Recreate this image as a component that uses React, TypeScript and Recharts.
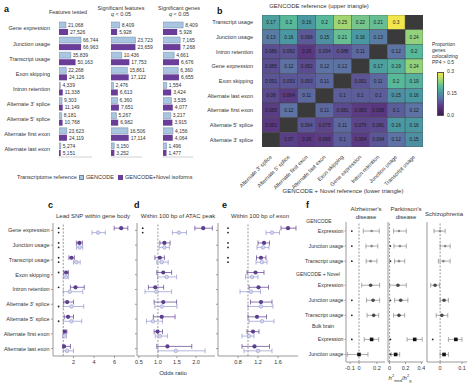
import React from "react";
import {
  Bar,
  BarChart,
  ErrorBar,
  LabelList,
  ReferenceLine,
  Scatter,
  ScatterChart,
  XAxis,
  YAxis,
} from "recharts";

// ---- shared ----
const eventTypes = [
  "Gene expression",
  "Junction usage",
  "Transcript usage",
  "Exon skipping",
  "Intron retention",
  "Alternate 3' splice",
  "Alternate 5' splice",
  "Alternate first exon",
  "Alternate last exon",
];

// ---- panel a: counts ----
const testedGencode = [21068, 66744, 35839, 22268, 4339, 9303, 8181, 23623, 5274];
const testedNovel = [27526, 66963, 50163, 24126, 11338, 11149, 10768, 24119, 5151];
const sigFeatGencode = [8409, 23723, 10436, 15861, 2476, 6360, 5267, 16506, 3150];
const sigFeatNovel = [5928, 23659, 17753, 17122, 6613, 7651, 6982, 17114, 3252];
const sigGenesGencode = [8409, 7165, 4661, 6360, 1554, 3535, 3217, 4156, 1496];
const sigGenesNovel = [5928, 7268, 6676, 6655, 3424, 4077, 3915, 4064, 1477];

// ---- panel b: colocalization heatmap (null = diagonal) ----
const heatRowLabels = [
  "Transcript usage",
  "Junction usage",
  "Intron retention",
  "Gene expression",
  "Exon skipping",
  "Alternate last exon",
  "Alternate first exon",
  "Alternate 5' splice",
  "Alternate 3' splice",
];
const heatColLabels = [
  "Alternate 3' splice",
  "Alternate 5' splice",
  "Alternate first exon",
  "Alternate last exon",
  "Exon skipping",
  "Gene expression",
  "Intron retention",
  "Junction usage",
  "Transcript usage",
];
const hmTranscript = [0.17, 0.2, 0.16, 0.2, 0.25, 0.22, 0.21, 0.3, null];
const hmJunction = [0.13, 0.16, 0.096, 0.15, 0.21, 0.16, 0.13, null, 0.24];
const hmIntron = [0.086, 0.092, 0.06, 0.094, 0.088, 0.11, null, 0.12, 0.2];
const hmGene = [0.085, 0.12, 0.082, 0.12, 0.12, null, 0.17, 0.19, 0.24];
const hmExonSkip = [0.091, 0.093, 0.093, 0.11, null, 0.091, 0.11, 0.2, 0.19];
const hmLastExon = [0.08, 0.064, 0.11, null, 0.1, 0.1, 0.1, 0.15, 0.16];
const hmFirstExon = [0.065, 0.12, null, 0.11, 0.081, 0.063, 0.058, 0.1, 0.12];
const hm5Splice = [0.061, null, 0.094, 0.075, 0.11, 0.076, 0.081, 0.16, 0.16];
const hm3Splice = [null, 0.07, 0.06, 0.065, 0.1, 0.064, 0.094, 0.12, 0.15];
const heatTicks = [0, 0.15, 0.3];

// ---- panels c-e: odds ratios (dark = GENCODE+Novel, light = GENCODE) ----
const cDark = [6.65, 2.57, 1.8, 1.28, 2.2, 1.38, 1.47, 1.15, 1.08];
const cDarkLo = [5.97, 2.28, 1.55, 1.05, 1.7, 1.05, 1.1, 1.0, 0.95];
const cDarkHi = [7.3, 2.86, 2.08, 1.5, 3.05, 2.0, 2.0, 1.35, 1.7];
const cLight = [4.4, 2.6, 2.28, 1.25, 1.63, 1.8, 1.8, 1.12, 1.38];
const cLightLo = [3.8, 2.3, 2.0, 1.0, 1.0, 1.0, 1.0, 0.95, 1.0];
const cLightHi = [5.1, 2.9, 2.65, 1.5, 2.9, 3.0, 2.8, 1.3, 2.0];
const cSigDark = [1, 1, 1, 1, 1, 0, 0, 0, 0];
const cSigLight = [1, 1, 1, 0, 0, 1, 1, 0, 0];

const dDark = [2.19, 1.17, 1.05, 1.14, 0.93, 1.14, 1.1, 0.99, 1.25];
const dDarkLo = [1.97, 1.05, 0.92, 0.97, 0.75, 0.9, 0.88, 0.9, 0.97];
const dDarkHi = [2.43, 1.32, 1.17, 1.36, 1.15, 1.49, 1.45, 1.12, 1.89];
const dLight = [1.55, 1.17, 1.1, 1.23, 0.96, 1.1, 0.87, 1.05, 1.47];
const dLightLo = [1.38, 1.03, 0.97, 0.99, 0.66, 0.92, 0.7, 0.93, 1.0];
const dLightHi = [1.75, 1.3, 1.27, 1.49, 1.36, 1.5, 1.12, 1.25, 2.24];
const dSigDark = [1, 0, 0, 0, 0, 0, 0, 0, 0];
const dSigLight = [1, 0, 0, 0, 0, 0, 0, 0, 0];

const eDark = [1.8, 1.32, 1.26, 1.15, 1.21, 1.26, 1.18, 1.1, 1.13];
const eDarkLo = [1.66, 1.2, 1.17, 0.98, 1.02, 1.05, 1.0, 0.98, 0.88];
const eDarkHi = [1.96, 1.43, 1.36, 1.32, 1.41, 1.48, 1.37, 1.22, 1.43];
const eLight = [1.48, 1.3, 1.28, 1.08, 1.06, 1.26, 1.28, 1.02, 1.2];
const eLightLo = [1.36, 1.18, 1.16, 0.95, 0.84, 1.0, 1.02, 0.88, 0.92];
const eLightHi = [1.63, 1.42, 1.38, 1.2, 1.25, 1.5, 1.52, 1.12, 1.48];
const eSigDark = [1, 1, 1, 0, 0, 0, 0, 0, 0];
const eSigLight = [1, 1, 1, 0, 0, 0, 0, 0, 0];

// ---- panel f: mediated heritability ----
const fGroups = ["GENCODE", "GENCODE + Novel", "Bulk brain"];
const fRowLabels = [
  "Expression",
  "Junction usage",
  "Transcript usage",
  "Expression",
  "Junction usage",
  "Transcript usage",
  "Expression",
  "Junction usage",
];
const fRowGroup = [0, 0, 0, 1, 1, 1, 2, 2];
const adMid = [0.141, 0.141, 0.13, 0.13, 0.157, 0.164, 0.141, 0.0];
const adLo = [0.048, 0.077, 0.08, 0.03, 0.084, 0.09, 0.058, -0.13];
const adHi = [0.226, 0.21, 0.2, 0.23, 0.23, 0.22, 0.22, 0.1];
const adSig = [1, 1, 1, 0, 1, 1, 1, 0];
const pdMid = [0.118, 0.13, 0.118, 0.105, 0.14, 0.118, 0.316, 0.076];
const pdLo = [0.05, 0.055, 0.063, 0.0, 0.063, 0.05, 0.22, 0.02];
const pdHi = [0.21, 0.21, 0.19, 0.21, 0.23, 0.19, 0.41, 0.127];
const pdSig = [0, 1, 1, 0, 1, 0, 1, 1];
const szMid = [0.0, 0.023, 0.015, -0.023, 0.018, 0.008, 0.072, 0.018];
const szLo = [-0.028, 0.0, -0.008, -0.043, 0.0, -0.018, 0.038, 0.0];
const szHi = [0.023, 0.046, 0.046, -0.003, 0.038, 0.035, 0.1, 0.038];
const szSig = [0, 0, 0, 0, 0, 0, 1, 0];

const FONT = "'Liberation Sans', Arial, sans-serif";
const TEXT = "#333";
const AXIS = "#9a9a9a";
const GENCODE_FILL = "#a9c5df";
const GENCODE_STROKE = "#6d8aa8";
const NOVEL_FILL = "#6a3d98";
const DARK = "#5b3f8e";
const LIGHT = "#9297cc";

const heatStops: [number, string][] = [
  [0, "#3b1d4f"],
  [0.06, "#5a3880"],
  [0.09, "#5b5394"],
  [0.12, "#5c73a3"],
  [0.16, "#4a98a1"],
  [0.2, "#58b89a"],
  [0.24, "#94d17b"],
  [0.3, "#f2e64d"],
];

function hexRgb(h: string) {
  return [1, 3, 5].map((i) => parseInt(h.slice(i, i + 2), 16));
}

function heatColor(v: number) {
  for (let i = 1; i < heatStops.length; i++) {
    const [v1, c1] = heatStops[i];
    if (v <= v1) {
      const [v0, c0] = heatStops[i - 1];
      const t = (v - v0) / (v1 - v0);
      const a = hexRgb(c0);
      const b = hexRgb(c1);
      return `rgb(${a.map((x, k) => Math.round(x + (b[k] - x) * t)).join(",")})`;
    }
  }
  return heatStops[heatStops.length - 1][1];
}

const fmtCount = (v: number) => v.toLocaleString("en-US");

// plain single-line tick (recharts' own Text wraps to the axis width)
const leftTick = (label: (p: any) => string, size = 5.5) => (p: any) => (
  <text x={p.x} y={p.y} dy="0.35em" textAnchor="end" fontSize={size} fill={TEXT}>
    {label(p)}
  </text>
);

const slantTick = (p: any) => (
  <text
    x={p.x}
    y={p.y + 2}
    transform={`rotate(-45 ${p.x} ${p.y + 2})`}
    dy="0.35em"
    textAnchor="end"
    fontSize={5.5}
    fill={TEXT}
  >
    {heatColLabels[p.payload.value]}
  </text>
);

function Label({ x, y, children, size = 5.5, align = "center", bold = false, color = TEXT, lh = 1.15 }: any) {
  const tx = align === "center" ? "-50%" : align === "right" ? "-100%" : "0";
  return (
    <div
      style={{
        position: "absolute",
        left: x,
        top: y,
        transform: `translate(${tx}, -50%)`,
        fontSize: size,
        fontWeight: bold ? 700 : 400,
        color,
        whiteSpace: "nowrap",
        lineHeight: lh,
        textAlign: align,
      }}
    >
      {children}
    </div>
  );
}

// ---- a ----
function CountColumn({ left, width, right, max, gencode, novel, showLabels }: any) {
  const data = eventTypes.map((name, i) => ({ name, gencode: gencode[i], novel: novel[i] }));
  return (
    <div style={{ position: "absolute", left, top: 0 }}>
      <BarChart
        layout="vertical"
        width={width}
        height={160}
        data={data}
        margin={{ top: 21, right, bottom: 1, left: showLabels ? 2 : 0 }}
        barSize={6}
        barGap={1}
      >
        <XAxis type="number" domain={[0, max]} allowDataOverflow tick={false} tickLine={false} height={2} axisLine={{ stroke: "#c4c4c4", strokeWidth: 0.8 }} />
        <YAxis
          type="category"
          dataKey="name"
          hide={!showLabels}
          width={57}
          interval={0}
          tickLine={false}
          axisLine={false}
          tickMargin={3}
          tick={leftTick((p) => p.payload.value)}
        />
        <Bar dataKey="gencode" fill={GENCODE_FILL} stroke={GENCODE_STROKE} strokeWidth={0.5} isAnimationActive={false}>
          <LabelList dataKey="gencode" position="right" offset={2} formatter={fmtCount} fontSize={5} fill={TEXT} />
        </Bar>
        <Bar dataKey="novel" fill={NOVEL_FILL} isAnimationActive={false}>
          <LabelList dataKey="novel" position="right" offset={2} formatter={fmtCount} fontSize={5} fill={TEXT} />
        </Bar>
      </BarChart>
    </div>
  );
}

// ---- b ----
const HM_PLOT_W = 161;
const HM_PLOT_H = 132;
const cellW = HM_PLOT_W / 9;
const cellH = HM_PLOT_H / 9;

function HeatCell(p: any) {
  const { cx, cy, payload } = p;
  const v = payload.v;
  return (
    <g>
      <rect
        x={cx - cellW / 2}
        y={cy - cellH / 2}
        width={cellW}
        height={cellH}
        fill={v == null ? "#3a3a3a" : heatColor(v)}
        stroke="#3c3c3c"
        strokeWidth={0.4}
      />
      {v != null && (
        <text x={cx} y={cy} dy="0.35em" textAnchor="middle" fontSize={4.8} fill="#1c1c28">
          {String(v)}
        </text>
      )}
    </g>
  );
}

function Heatmap() {
  const rows = [hmTranscript, hmJunction, hmIntron, hmGene, hmExonSkip, hmLastExon, hmFirstExon, hm5Splice, hm3Splice];
  const cells = rows.flatMap((r, y) => r.map((v, x) => ({ x, y, v })));
  const idx = [0, 1, 2, 3, 4, 5, 6, 7, 8];
  const grad = heatStops.map(([v, c]) => `${c} ${(v / 0.3) * 100}%`).join(",");
  return (
    <>
      <div style={{ position: "absolute", left: 200, top: 0 }}>
        <ScatterChart width={274} height={200} margin={{ top: 15, right: 51, bottom: 0, left: 0 }}>
          <XAxis
            type="number"
            dataKey="x"
            domain={[-0.5, 8.5]}
            allowDataOverflow
            ticks={idx}
            interval={0}
            height={53}
            axisLine={false}
            tickLine={false}
            tickMargin={1}
            tick={slantTick}
          />
          <YAxis
            type="number"
            dataKey="y"
            domain={[-0.5, 8.5]}
            allowDataOverflow
            reversed
            ticks={idx}
            interval={0}
            width={62}
            axisLine={false}
            tickLine={false}
            tickMargin={3}
            tick={leftTick((p) => heatRowLabels[p.payload.value])}
          />
          <Scatter data={cells} shape={HeatCell} isAnimationActive={false} />
        </ScatterChart>
      </div>
      <div
        style={{
          position: "absolute",
          left: 437,
          top: 72,
          width: 7,
          height: 44,
          background: `linear-gradient(to top, ${grad})`,
          border: "0.5px solid #555",
          boxSizing: "border-box",
        }}
      />
      {heatTicks.map((t) => (
        <Label key={t} x={447} y={116 - (t / 0.3) * 44} align="left" size={5}>
          {t === 0 ? "0.0" : String(t)}
        </Label>
      ))}
      <Label x={432} y={53} align="left" size={5} lh={1.2}>
        Proportion
        <br />
        genes
        <br />
        colocalizing
        <br />
        PP4 &gt; 0.5
      </Label>
    </>
  );
}

// ---- c-e ----
function DarkDot(p: any) {
  return <circle cx={p.cx} cy={p.cy} r={2.1} fill={DARK} />;
}
function LightDot(p: any) {
  return <circle cx={p.cx} cy={p.cy} r={1.8} fill="#d5d7ee" stroke={LIGHT} strokeWidth={0.6} />;
}
function SigDot(p: any) {
  return <circle cx={p.cx} cy={p.cy} r={0.9} fill="#222" />;
}

function Forest({ left, width, yWidth, domain, ticks, fmt, labels, sigX, dark, darkLo, darkHi, light, lightLo, lightHi, sigDark, sigLight }: any) {
  const darkPts = dark.map((v: number, i: number) => ({ x: v, y: i - 0.15, err: [v - darkLo[i], darkHi[i] - v] }));
  const lightPts = light.map((v: number, i: number) => ({ x: v, y: i + 0.15, err: [v - lightLo[i], lightHi[i] - v] }));
  const sigPts = [
    ...sigDark.map((s: number, i: number) => (s ? { x: sigX, y: i - 0.15 } : null)),
    ...sigLight.map((s: number, i: number) => (s ? { x: sigX, y: i + 0.15 } : null)),
  ].filter(Boolean);
  return (
    <div style={{ position: "absolute", left, top: 215 }}>
      <ScatterChart width={width} height={155} margin={{ top: 8, right: 2, bottom: 0, left: 0 }}>
        <XAxis
          type="number"
          dataKey="x"
          domain={domain}
          allowDataOverflow
          ticks={ticks}
          interval={0}
          tickFormatter={fmt}
          height={14}
          tickSize={2}
          stroke={AXIS}
          tick={{ fontSize: 5.5, fill: TEXT }}
        />
        <YAxis
          type="number"
          dataKey="y"
          domain={[-0.5, 8.5]}
          allowDataOverflow
          reversed
          ticks={[0, 1, 2, 3, 4, 5, 6, 7, 8]}
          interval={0}
          width={yWidth}
          tickSize={2}
          tickMargin={1.5}
          stroke={AXIS}
          tick={leftTick((p) => (labels ? eventTypes[p.payload.value] : ""))}
        />
        <ReferenceLine x={1} stroke="#555" strokeDasharray="2 1.5" strokeWidth={0.6} />
        <Scatter data={lightPts} shape={LightDot} isAnimationActive={false}>
          <ErrorBar dataKey="err" direction="x" width={2.4} stroke={LIGHT} strokeWidth={0.7} />
        </Scatter>
        <Scatter data={darkPts} shape={DarkDot} isAnimationActive={false}>
          <ErrorBar dataKey="err" direction="x" width={2.4} stroke={DARK} strokeWidth={0.7} />
        </Scatter>
        <Scatter data={sigPts} shape={SigDot} isAnimationActive={false} />
      </ScatterChart>
    </div>
  );
}

// ---- f ----
function HerDot(p: any) {
  const g = p.payload.g;
  if (g === 2) return <rect x={p.cx - 1.8} y={p.cy - 1.8} width={3.6} height={3.6} fill="#111" />;
  return <circle cx={p.cx} cy={p.cy} r={g === 0 ? 1.3 : 1.8} fill={g === 0 ? "#8a8a8a" : "#4a4a4a"} />;
}

const fY = fRowLabels.map((_, i) => i + fRowGroup[i] * 0.6);

function Heritability({ left, width, yWidth, domain, ticks, labels, mid, lo, hi, sig, sigX }: any) {
  const pts = mid.map((v: number, i: number) => ({ x: v, y: fY[i], g: fRowGroup[i], err: [v - lo[i], hi[i] - v] }));
  const sigPts = sig.map((s: number, i: number) => (s ? { x: sigX, y: fY[i] } : null)).filter(Boolean);
  return (
    <div style={{ position: "absolute", left, top: 214 }}>
      <ScatterChart width={width} height={162} margin={{ top: 8, right: 2, bottom: 0, left: 0 }}>
        <XAxis
          type="number"
          dataKey="x"
          domain={domain}
          allowDataOverflow
          ticks={ticks}
          interval={0}
          tickFormatter={(v: number) => String(v)}
          height={14}
          tickSize={2}
          stroke={AXIS}
          tick={{ fontSize: 5.5, fill: TEXT }}
        />
        <YAxis
          type="number"
          dataKey="y"
          domain={[-0.6, 8.7]}
          allowDataOverflow
          reversed
          ticks={fY}
          interval={0}
          width={yWidth}
          tickSize={labels ? 1.5 : 0}
          tickMargin={1}
          stroke={AXIS}
          tick={leftTick((p) => (labels ? fRowLabels[p.index] : ""), 5.2)}
        />
        <ReferenceLine x={0} stroke="#555" strokeDasharray="2 1.5" strokeWidth={0.6} />
        <Scatter data={pts} shape={HerDot} isAnimationActive={false}>
          <ErrorBar dataKey="err" direction="x" width={2.4} stroke="#888" strokeWidth={0.7} />
        </Scatter>
        <Scatter data={sigPts} shape={SigDot} isAnimationActive={false} />
      </ScatterChart>
    </div>
  );
}

export default function App() {
  return (
    <div
      style={{
        position: "fixed",
        left: 0,
        top: 0,
        width: 474,
        height: 387,
        background: "#fff",
        fontFamily: FONT,
        overflow: "hidden",
      }}
    >
      {/* a */}
      <Label x={4} y={9} align="left" size={9} bold color="#111">a</Label>
      <Label x={68} y={12} size={5.5}>Features tested</Label>
      <Label x={121} y={11.5} size={5.5} lh={1.25}>
        Significant features
        <br />
        <i>q</i> &lt; 0.05
      </Label>
      <Label x={179} y={11.5} size={5.5} lh={1.25}>
        Significant genes
        <br />
        <i>q</i> &lt; 0.05
      </Label>
      <CountColumn left={0} width={120} right={28} max={100000} gencode={testedGencode} novel={testedNovel} showLabels />
      <CountColumn left={111} width={70} right={39} max={30000} gencode={sigFeatGencode} novel={sigFeatNovel} />
      <CountColumn left={163} width={70} right={40} max={12500} gencode={sigGenesGencode} novel={sigGenesNovel} />
      <Label x={17} y={177} align="left" size={5.5}>Transcriptome reference</Label>
      <div style={{ position: "absolute", left: 79, top: 174.5, width: 5, height: 5, background: GENCODE_FILL, border: `0.5px solid ${GENCODE_STROKE}`, boxSizing: "border-box" }} />
      <Label x={86} y={177} align="left" size={5.5}>GENCODE</Label>
      <div style={{ position: "absolute", left: 118, top: 174.5, width: 5, height: 5, background: NOVEL_FILL }} />
      <Label x={125} y={177} align="left" size={5.5}>GENCODE+Novel isoforms</Label>

      {/* b */}
      <Label x={217} y={11} align="left" size={9} bold color="#111">b</Label>
      <Label x={319} y={6} size={6}>GENCODE reference (upper triangle)</Label>
      <Heatmap />
      <Label x={343} y={191} size={6}>GENCODE + Novel reference (lower triangle)</Label>

      {/* c - e */}
      <Label x={48} y={205} align="left" size={9} bold color="#111">c</Label>
      <Label x={134} y={205} align="left" size={9} bold color="#111">d</Label>
      <Label x={222} y={205} align="left" size={9} bold color="#111">e</Label>
      <Label x={93} y={216} size={6}>Lead SNP within gene body</Label>
      <Label x={178} y={216} size={6}>Within 100 bp of ATAC peak</Label>
      <Label x={260} y={216} size={6}>Within 100 bp of exon</Label>
      <Forest
        left={0}
        width={137}
        yWidth={53}
        domain={[0, 8]}
        ticks={[2, 4, 6]}
        fmt={(v: number) => String(v)}
        labels
        sigX={0.55}
        dark={cDark}
        darkLo={cDarkLo}
        darkHi={cDarkHi}
        light={cLight}
        lightLo={cLightLo}
        lightHi={cLightHi}
        sigDark={cSigDark}
        sigLight={cSigLight}
      />
      <Forest
        left={133}
        width={84}
        yWidth={4}
        domain={[0.45, 2.5]}
        ticks={[0.5, 1.0, 1.5, 2.0]}
        fmt={(v: number) => v.toFixed(1)}
        sigX={0.6}
        dark={dDark}
        darkLo={dDarkLo}
        darkHi={dDarkHi}
        light={dLight}
        lightLo={dLightLo}
        lightHi={dLightHi}
        sigDark={dSigDark}
        sigLight={dSigLight}
      />
      <Forest
        left={214}
        width={86}
        yWidth={4}
        domain={[0.4, 2.0]}
        ticks={[0.8, 1.2, 1.6]}
        fmt={(v: number) => String(v)}
        sigX={0.6}
        dark={eDark}
        darkLo={eDarkLo}
        darkHi={eDarkHi}
        light={eLight}
        lightLo={eLightLo}
        lightHi={eLightHi}
        sigDark={eSigDark}
        sigLight={eSigLight}
      />
      <Label x={173} y={373} size={6}>Odds ratio</Label>

      {/* f */}
      <Label x={306} y={205} align="left" size={9} bold color="#111">f</Label>
      <Label x={366} y={214} size={6} lh={1.3}>
        Alzheimer's
        <br />
        disease
      </Label>
      <Label x={406} y={214} size={6} lh={1.3}>
        Parkinson's
        <br />
        disease
      </Label>
      <Label x={444} y={214} size={6}>Schizophrenia</Label>
      <Label x={319} y={222} size={5}>{fGroups[0]}</Label>
      <Label x={318} y={274.5} size={5}>{fGroups[1]}</Label>
      <Label x={323} y={326.5} size={5}>{fGroups[2]}</Label>
      <Heritability
        left={300}
        width={87}
        yWidth={46}
        domain={[-0.145, 0.29]}
        ticks={[-0.1, 0, 0.2]}
        labels
        mid={adMid}
        lo={adLo}
        hi={adHi}
        sig={adSig}
        sigX={-0.08}
      />
      <Heritability
        left={384}
        width={41}
        yWidth={4}
        domain={[-0.02, 0.42]}
        ticks={[0, 0.2, 0.4]}
        mid={pdMid}
        lo={pdLo}
        hi={pdHi}
        sig={pdSig}
        sigX={0.01}
      />
      <Heritability
        left={423}
        width={46}
        yWidth={4}
        domain={[-0.06, 0.123]}
        ticks={[0, 0.1]}
        mid={szMid}
        lo={szLo}
        hi={szHi}
        sig={szSig}
        sigX={-0.034}
      />
      <Label x={400} y={379} size={6}>
        <i>h</i>
        <sup style={{ fontSize: 4 }}>2</sup>
        <sub style={{ fontSize: 4 }}>med</sub>/<i>h</i>
        <sup style={{ fontSize: 4 }}>2</sup>
        <sub style={{ fontSize: 4 }}>g</sub>
      </Label>
    </div>
  );
}
